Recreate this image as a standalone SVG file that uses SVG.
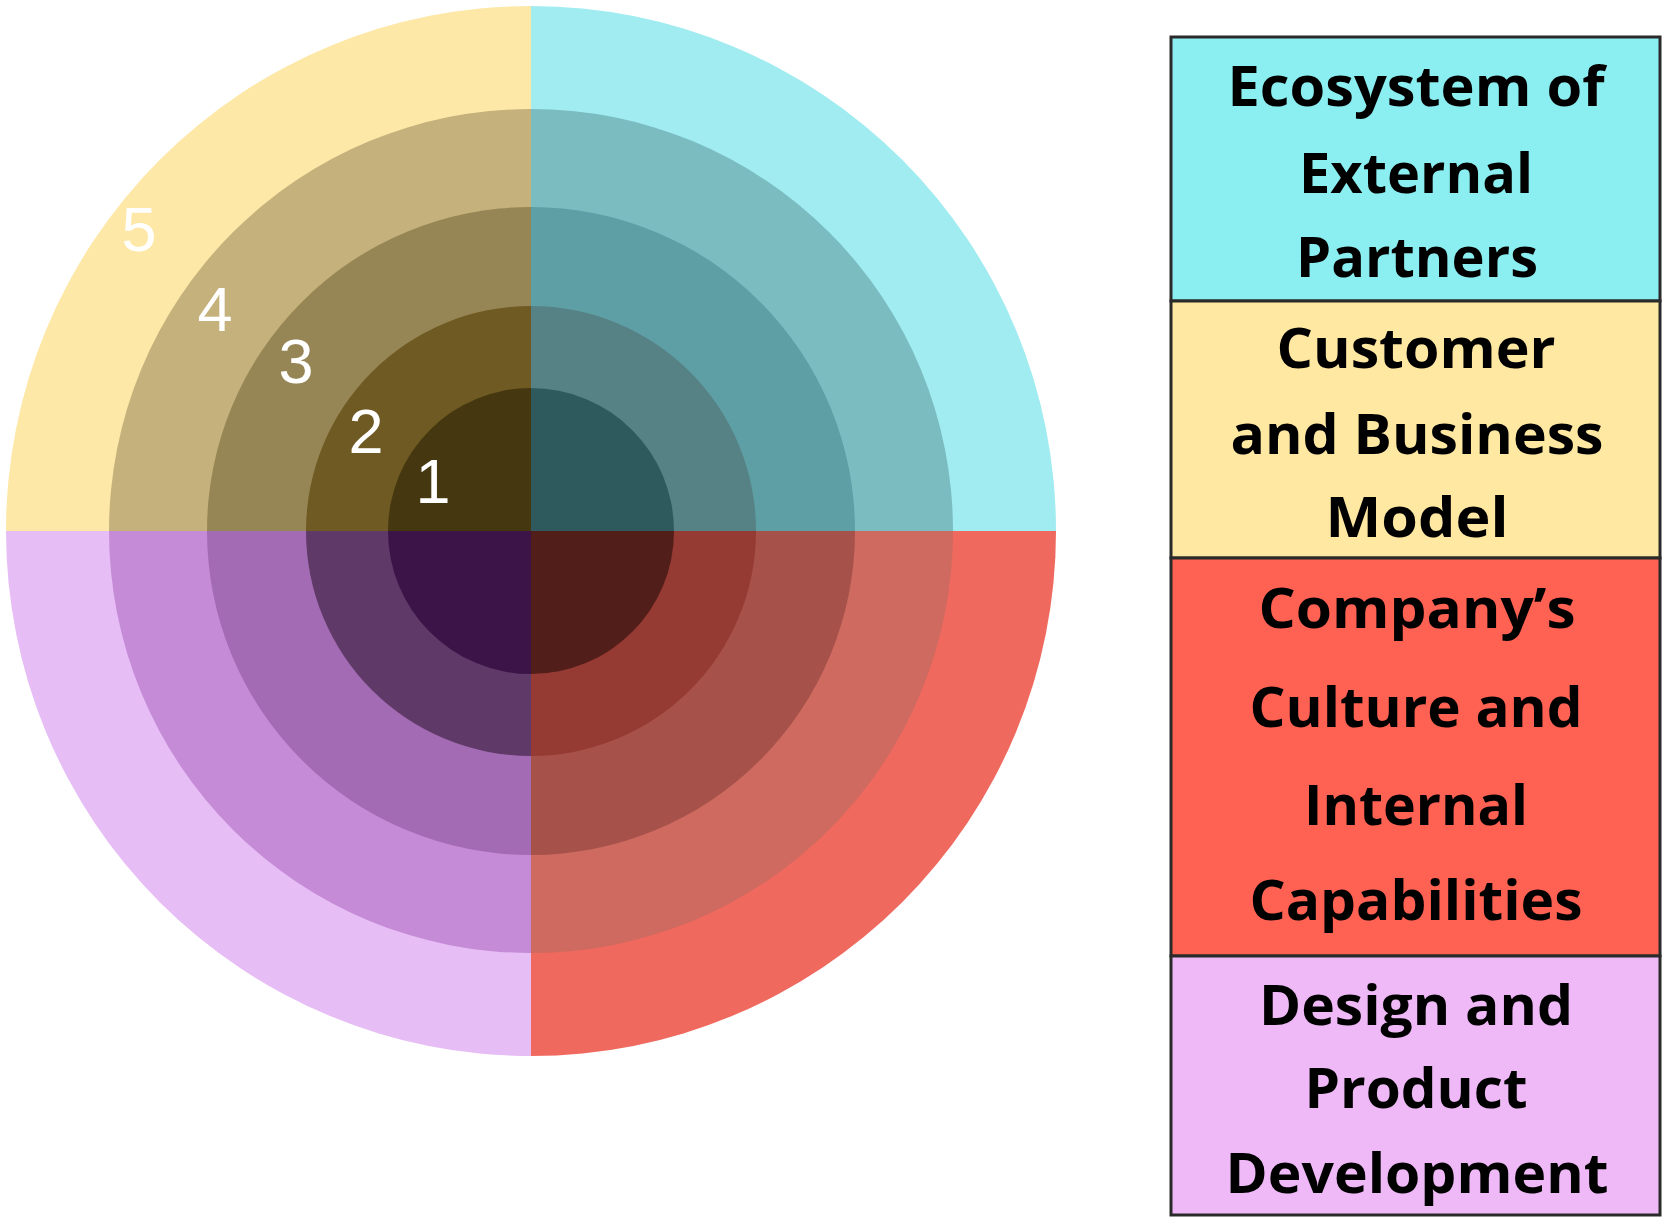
<svg xmlns="http://www.w3.org/2000/svg" width="1667" height="1224" viewBox="0 0 1667 1224">
<style>
.num{font-family:"Liberation Sans",Arial,sans-serif;font-size:63px;fill:#ffffff;text-anchor:middle}
.lbl{font-family:"Open Sans","Liberation Sans",sans-serif;font-weight:bold;font-size:55px;fill:#000000;text-anchor:middle;font-variant-ligatures:none}
.box{stroke:#2a2a2a;stroke-width:3}
</style>
<defs>
<clipPath id="qTL"><rect x="0" y="0" width="531" height="531"/></clipPath>
<clipPath id="qTR"><rect x="531" y="0" width="540" height="531"/></clipPath>
<clipPath id="qBR"><rect x="531" y="531" width="540" height="540"/></clipPath>
<clipPath id="qBL"><rect x="0" y="531" width="531" height="540"/></clipPath>
</defs>
<rect width="1667" height="1224" fill="#ffffff"/>
<g id="circle">
<g id="quadrant-customer" clip-path="url(#qTL)">
<circle cx="531" cy="531" r="525" fill="#FDE8A7"/>
<circle cx="531" cy="531" r="422" fill="#C5B17B"/>
<circle cx="531" cy="531" r="324" fill="#978655"/>
<circle cx="531" cy="531" r="225" fill="#6E5A22"/>
<circle cx="531" cy="531" r="143" fill="#45370F"/>
</g>
<g id="quadrant-ecosystem" clip-path="url(#qTR)">
<circle cx="531" cy="531" r="525" fill="#A0ECF0"/>
<circle cx="531" cy="531" r="422" fill="#7BBCC1"/>
<circle cx="531" cy="531" r="324" fill="#5E9FA5"/>
<circle cx="531" cy="531" r="225" fill="#578285"/>
<circle cx="531" cy="531" r="143" fill="#2E5A5E"/>
</g>
<g id="quadrant-culture" clip-path="url(#qBR)">
<circle cx="531" cy="531" r="525" fill="#EF695E"/>
<circle cx="531" cy="531" r="422" fill="#CE6A60"/>
<circle cx="531" cy="531" r="324" fill="#A6524A"/>
<circle cx="531" cy="531" r="225" fill="#963B33"/>
<circle cx="531" cy="531" r="143" fill="#521E1A"/>
</g>
<g id="quadrant-design" clip-path="url(#qBL)">
<circle cx="531" cy="531" r="525" fill="#E6BDF5"/>
<circle cx="531" cy="531" r="422" fill="#C68BD7"/>
<circle cx="531" cy="531" r="324" fill="#A36BB3"/>
<circle cx="531" cy="531" r="225" fill="#5F3A68"/>
<circle cx="531" cy="531" r="143" fill="#3D1448"/>
</g>
</g>
<g id="ring-labels">
<text class="num" x="139" y="251">5</text>
<text class="num" x="215" y="331">4</text>
<text class="num" x="296" y="383">3</text>
<text class="num" x="366" y="453">2</text>
<text class="num" x="433" y="503">1</text>
</g>
<g id="connectors"/>
<g id="legend">
<g id="legend-ecosystem">
<rect class="box" x="1171" y="37" width="489" height="264" fill="#8BEEF1"/>
<text class="lbl" x="1416" y="106" textLength="377" lengthAdjust="spacingAndGlyphs">Ecosystem of</text>
<text class="lbl" x="1416" y="193" textLength="234" lengthAdjust="spacingAndGlyphs">External</text>
<text class="lbl" x="1417" y="277" textLength="242" lengthAdjust="spacingAndGlyphs">Partners</text>
</g>
<g id="legend-customer">
<rect class="box" x="1171" y="301" width="489" height="257" fill="#FFE8A2"/>
<text class="lbl" x="1416" y="368" textLength="279" lengthAdjust="spacingAndGlyphs">Customer</text>
<text class="lbl" x="1417" y="454" textLength="373" lengthAdjust="spacingAndGlyphs">and Business</text>
<text class="lbl" x="1417" y="537" textLength="183" lengthAdjust="spacingAndGlyphs">Model</text>
</g>
<g id="legend-culture">
<rect class="box" x="1171" y="558" width="489" height="398" fill="#FF6153"/>
<text class="lbl" x="1417" y="628" textLength="317" lengthAdjust="spacingAndGlyphs">Company’s</text>
<text class="lbl" x="1416" y="727" textLength="333" lengthAdjust="spacingAndGlyphs">Culture and</text>
<text class="lbl" x="1416" y="825" textLength="224" lengthAdjust="spacingAndGlyphs">Internal</text>
<text class="lbl" x="1416" y="920" textLength="333" lengthAdjust="spacingAndGlyphs">Capabilities</text>
</g>
<g id="legend-design">
<rect class="box" x="1171" y="956" width="489" height="259" fill="#EFB8F7"/>
<text class="lbl" x="1416" y="1025" textLength="314" lengthAdjust="spacingAndGlyphs">Design and</text>
<text class="lbl" x="1416" y="1108" textLength="223" lengthAdjust="spacingAndGlyphs">Product</text>
<text class="lbl" x="1417" y="1193" textLength="383" lengthAdjust="spacingAndGlyphs">Development</text>
</g>
</g>
</svg>
